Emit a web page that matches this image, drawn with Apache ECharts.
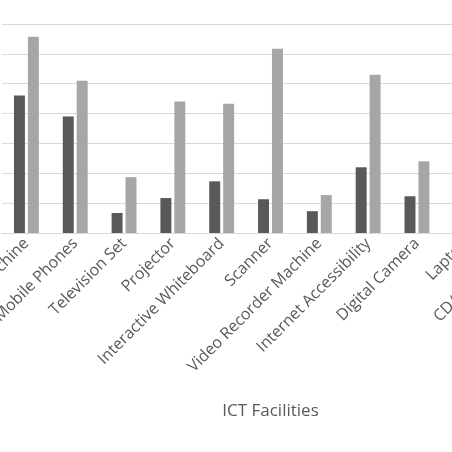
<!DOCTYPE html>
<html>
<head>
<meta charset="utf-8">
<script src="https://cdn.jsdelivr.net/npm/echarts@6/dist/echarts.min.js"></script>
<style>html,body{margin:0;padding:0;background:#fff}#chart{width:452px;height:452px}</style>
</head>
<body>
<div id="chart"></div>
<script>
const categories = ["Fax Machine", "Mobile Phones", "Television Set", "Projector", "Interactive Whiteboard", "Scanner", "Video Recorder Machine", "Internet Accessibility", "Digital Camera", "Laptop", "CD/DVD Player"];
const darkValues = [46, 39, 6.7, 11.7, 17.3, 11.3, 7.3, 22, 12.3, 28, 10];
const lightValues = [65.7, 51, 18.7, 44, 43.3, 61.7, 12.7, 53, 24, 40, 20];

const myChart = echarts.init(document.getElementById("chart"), null, { renderer: "canvas" });

const option = {
  animation: false,
  grid: { left: 2, right: -87, top: -6, bottom: 219, outerBoundsMode: "none", containLabel: false },
  xAxis: {
    type: "category",
    data: categories,
    name: "ICT Facilities",
    nameLocation: "middle",
    nameGap: 170,
    nameTextStyle: { color: "#595959", fontSize: 17, fontFamily: "Open Sans" },
    axisLine: { lineStyle: { color: "#d9d9d9" } },
    axisTick: { show: false },
    axisLabel: { rotate: 45, interval: 0, color: "#595959", fontSize: 16, fontFamily: "Open Sans", margin: 8, hideOverlap: false },
  },
  yAxis: {
    type: "value",
    min: 0,
    max: 80,
    interval: 10,
    axisLabel: { show: false },
    splitLine: { lineStyle: { color: "#d9d9d9" } },
  },
  series: [
    { type: "bar", data: darkValues, itemStyle: { color: "#595959" }, barGap: "27%", barCategoryGap: "49%" },
    { type: "bar", data: lightValues, itemStyle: { color: "#a6a6a6" } },
  ],
};

myChart.setOption(option);
</script>
</body>
</html>
